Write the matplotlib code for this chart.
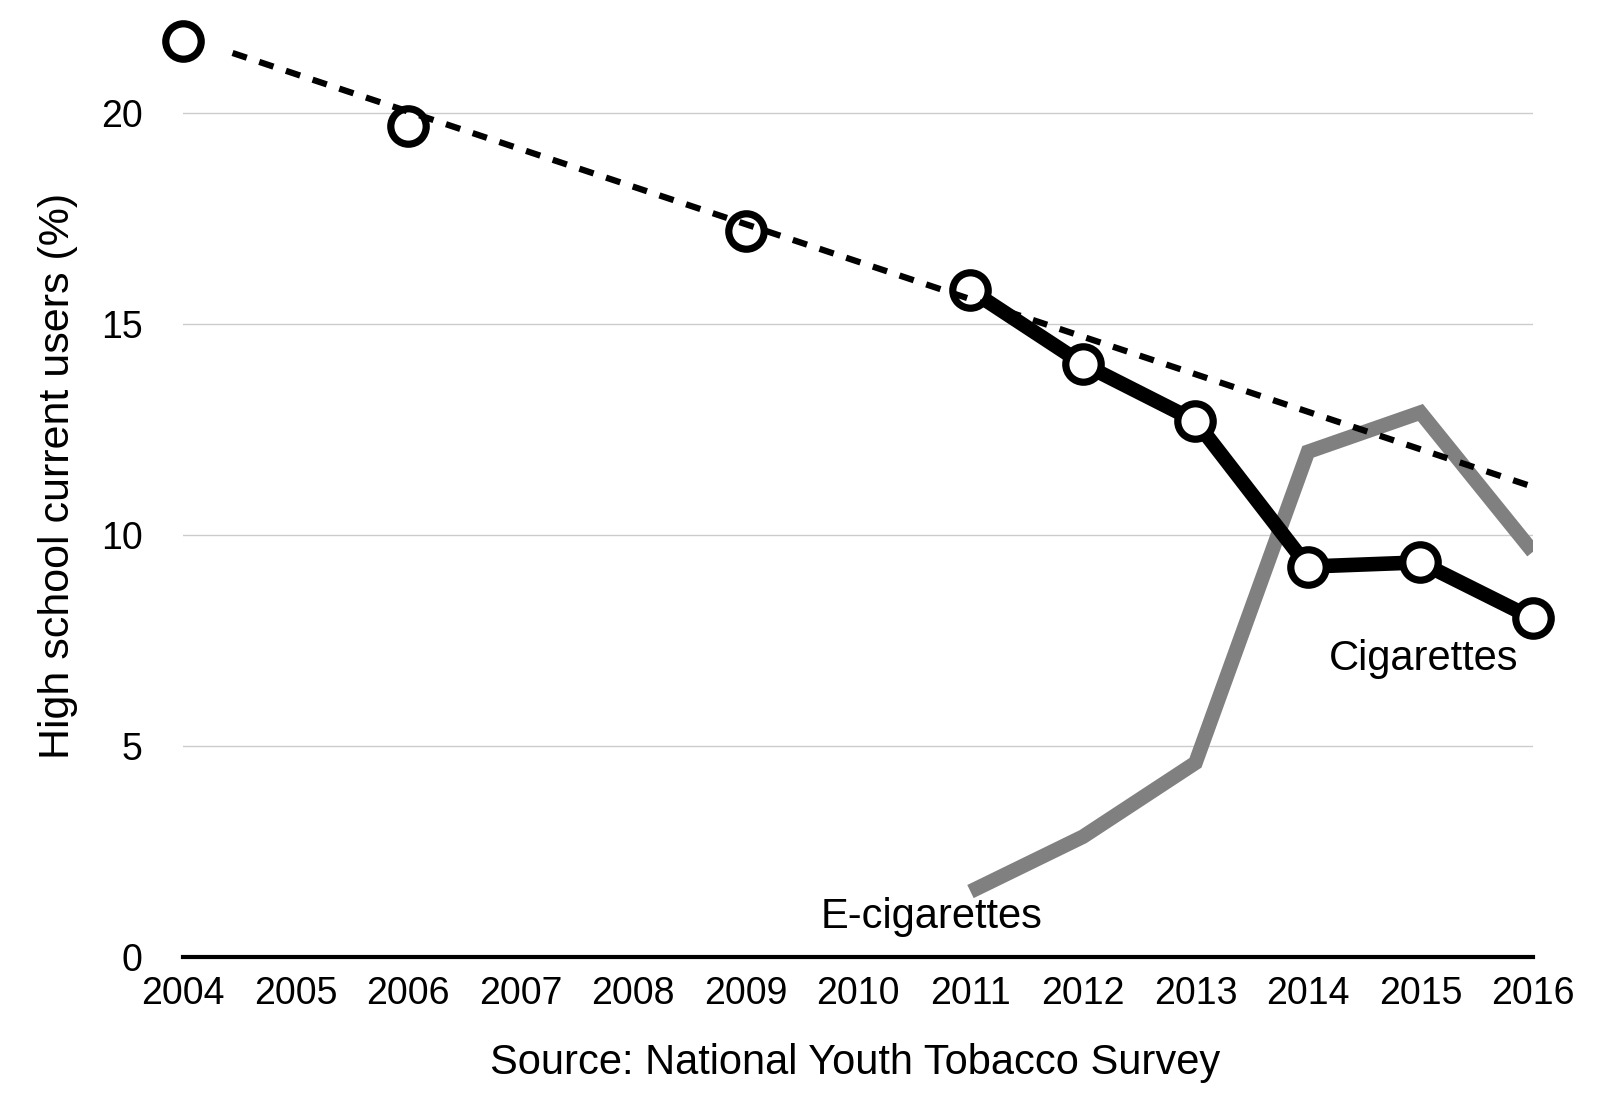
import matplotlib
matplotlib.use("Agg")
import matplotlib.pyplot as plt

plt.rcParams['font.family'] = ['Liberation Sans', 'DejaVu Sans']

# Dados
anos_cig = [2004, 2006, 2009, 2011, 2012, 2013, 2014, 2015, 2016]
cigarros = [21.7, 19.7, 17.2, 15.8, 14.05, 12.7, 9.25, 9.35, 8.02]

anos_ecig = [2011, 2012, 2013, 2014, 2015, 2016]
ecigarros = [1.55, 2.85, 4.6, 11.97, 12.9, 9.6]

anos_tend = [2004.44, 2016]
tendencia = [21.42, 11.14]

anos_ticks = list(range(2004, 2017))
y_ticks = [0, 5, 10, 15, 20]

fig = plt.figure(figsize=(16, 11.09), dpi=100)
ax = fig.add_axes([0.1144, 0.1371, 0.8437, 0.8372])

ax.plot(anos_ecig, ecigarros, color='#808080', lw=10.5, solid_capstyle='butt',
        solid_joinstyle='miter', zorder=2)
ax.plot(anos_cig[3:], cigarros[3:], color='black', lw=10.5, zorder=3)
ax.plot(anos_cig, cigarros, ls='none', marker='o', ms=25.5, mfc='white',
        mec='black', mew=5.2, zorder=4, clip_on=False)
ax.plot(anos_tend, tendencia, color='black', lw=4.5, dashes=(2.4, 2.1),
        zorder=5, clip_on=False)

ax.set_xlim(2004, 2016)
ax.set_ylim(0, 22)
ax.set_xticks(anos_ticks)
ax.set_xticklabels([str(a) for a in anos_ticks])
ax.set_yticks(y_ticks)
ax.tick_params(axis='both', length=0, labelsize=27)
ax.tick_params(axis='x', pad=14)
ax.tick_params(axis='y', pad=29)

for s in ['top', 'right', 'left']:
    ax.spines[s].set_visible(False)
ax.spines['bottom'].set_linewidth(3)
ax.spines['bottom'].set_zorder(6)

ax.grid(axis='y', color='#cccccc', lw=1)
ax.set_axisbelow(True)

ax.set_ylabel('High school current users (%)', fontsize=31)
ax.yaxis.set_label_coords(-0.078, 0.518)
ax.text(2015.03, 7.05, 'Cigarettes', fontsize=30, ha='center', va='center')
ax.text(2010.65, 0.95, 'E-cigarettes', fontsize=30, ha='center', va='center')
fig.text(855 / 1600, 1 - 1063 / 1109, 'Source: National Youth Tobacco Survey',
         fontsize=30, ha='center', va='center')

fig.savefig('out.png', dpi=100)
